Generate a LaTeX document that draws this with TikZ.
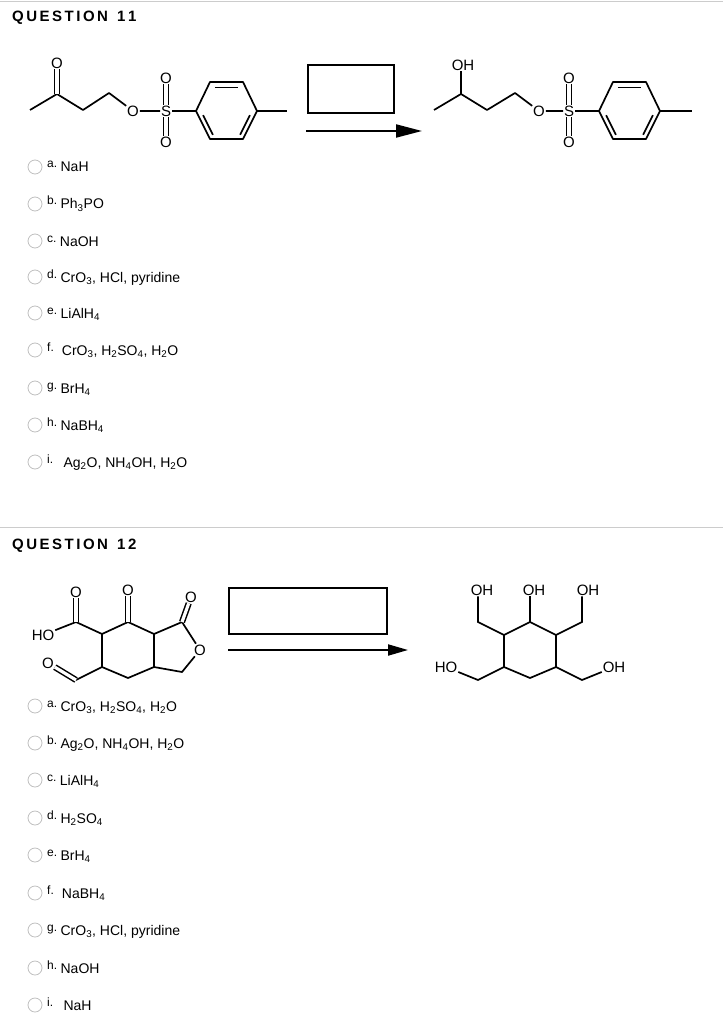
\documentclass[tikz,border=0pt]{standalone}
\usepackage{fontspec}
\setmainfont{Liberation Sans}
\usetikzlibrary{calc,arrows.meta}
\newcommand{\lsub}[1]{\textsubscript{#1}}
\tikzset{
  bond/.style={line width=1.7pt},
  dbond/.style={line width=1.5pt,double distance=3.2pt},
  atom/.style={inner sep=0.8pt,font=\fontsize{15}{15}\selectfont},
  radio/.style={draw=black!25,line width=0.8pt,circle,minimum size=14pt,inner sep=0pt},
  lett/.style={anchor=base west,inner sep=0pt,font=\fontsize{12}{12}\selectfont},
  opttext/.style={anchor=base west,inner sep=0pt,font=\fontsize{14}{14}\selectfont},
  qtitle/.style={anchor=west,inner sep=0pt,font=\fontsize{15}{15}\selectfont\bfseries},
  sepline/.style={draw=black!20,line width=0.8pt},
  answerbox/.style={draw,line width=1.7pt},
  rxn/.style={line width=2pt,-{Triangle[length=26pt,width=13pt]}}
}
\newcommand{\myopt}[4]{%
  \node[radio] (r#1) at (35,#2) {};
  \node[lett] (l#1) at (47,#2+1) {#3};
  \node[opttext] (t#1) at ([xshift=3pt,yshift=-4pt]l#1.base east) {#4};}
\begin{document}
\begin{tikzpicture}[x=1pt,y=-1pt]
\useasboundingbox (0,0) rectangle (723,1024);
\draw[sepline] (0,1) -- (723,1);
\draw[sepline] (0,527) -- (723,527);
\node[qtitle] (q11) at (12,18) {Q\,U\,E\,S\,T\,I\,O\,N\,\, 1\,1};
\node[qtitle] (q12) at (12,546) {Q\,U\,E\,S\,T\,I\,O\,N\,\, 1\,2};

% ---- Q11 left molecule
\coordinate (a1) at (30,110); \coordinate (a2) at (57,94);
\node[atom] (aO) at (57,63) {O};
\coordinate (a3) at (83,110); \coordinate (a4) at (109,93);
\node[atom] (aO2) at (133,111) {O};
\node[atom] (aS) at (166,111) {S};
\node[atom] (aSu) at (166,78) {O};
\node[atom] (aSd) at (166,142) {O};
\coordinate (b1) at (196,111); \coordinate (b2) at (210,82); \coordinate (b3) at (243,82);
\coordinate (b4) at (257,111); \coordinate (b5) at (243,139); \coordinate (b6) at (210,139);
\coordinate (bm) at (287,111);
\draw[bond,line join=round] (a1)--(a2)--(a3)--(a4)--(aO2)--(aS)--(b1);
\draw[bond,line join=round] (b1)--(b2)--(b3)--(b4)--(b5)--(b6)--cycle;
\draw[bond] (b4)--(bm);
\draw[dbond] (a2)--(aO); \draw[dbond] (aS)--(aSu); \draw[dbond] (aS)--(aSd);
\draw[bond] ($(b2)!0.15!(b3)+(0,5.5)$)--($(b2)!0.85!(b3)+(0,5.5)$);
\draw[bond] ($(b4)!0.15!(b5)+(-5,0)$)--($(b4)!0.85!(b5)+(-5,0)$);
\draw[bond] ($(b6)!0.15!(b1)+(5,0)$)--($(b6)!0.85!(b1)+(5,0)$);

\node[answerbox,minimum width=86pt,minimum height=48pt] (box11) at (351,89) {};
\coordinate (ar11s) at (306,131); \coordinate (ar11e) at (422,131);
\draw[rxn] (ar11s)--(ar11e);

% ---- Q11 right molecule
\coordinate (c1) at (434,110); \coordinate (c2) at (461,94);
\node[atom] (cO) at (463,65) {OH};
\coordinate (c3) at (487,110); \coordinate (c4) at (515,93);
\node[atom] (cO2) at (539,111) {O};
\node[atom] (cS) at (569,111) {S};
\node[atom] (cSu) at (569,78) {O};
\node[atom] (cSd) at (569,142) {O};
\coordinate (d1) at (599,111); \coordinate (d2) at (613,82); \coordinate (d3) at (646,82);
\coordinate (d4) at (660,111); \coordinate (d5) at (646,139); \coordinate (d6) at (613,139);
\coordinate (dm) at (692,111);
\draw[bond,line join=round] (c1)--(c2)--(c3)--(c4)--(cO2)--(cS)--(d1);
\draw[bond,line join=round] (d1)--(d2)--(d3)--(d4)--(d5)--(d6)--cycle;
\draw[bond] (d4)--(dm);
\draw[bond] (c2)--(c2|-cO.south);
\draw[dbond] (cS)--(cSu); \draw[dbond] (cS)--(cSd);
\draw[bond] ($(d2)!0.15!(d3)+(0,5.5)$)--($(d2)!0.85!(d3)+(0,5.5)$);
\draw[bond] ($(d4)!0.15!(d5)+(-5,0)$)--($(d4)!0.85!(d5)+(-5,0)$);
\draw[bond] ($(d6)!0.15!(d1)+(5,0)$)--($(d6)!0.85!(d1)+(5,0)$);

% ---- Q11 options
\myopt{a1}{167}{a.}{NaH}
\myopt{b1}{204}{b.}{Ph\lsub{3}PO}
\myopt{c1}{241}{c.}{NaOH}
\myopt{d1}{277}{d.}{CrO\lsub{3}, HCl, pyridine}
\myopt{e1}{313}{e.}{LiAlH\lsub{4}}
\myopt{f1}{350}{f.}{\,\,CrO\lsub{3}, H\lsub{2}SO\lsub{4}, H\lsub{2}O}
\myopt{g1}{388}{g.}{BrH\lsub{4}}
\myopt{h1}{425}{h.}{NaBH\lsub{4}}
\myopt{i1}{462}{i.}{\,\,\,Ag\lsub{2}O, NH\lsub{4}OH, H\lsub{2}O}

% ---- Q12 left molecule
\coordinate (e1) at (102,634); \coordinate (e2) at (128,622); \coordinate (e3) at (154,634);
\coordinate (e4) at (154,667); \coordinate (e5) at (128,678); \coordinate (e6) at (102,667);
\coordinate (eA) at (76,622);
\node[atom] (eAO) at (76,592) {O};
\node[atom] (eHO) at (43,635) {HO};
\node[atom] (eKO) at (128,590) {O};
\coordinate (eL) at (182,622);
\node[atom] (eLO) at (191,597) {O};
\node[atom] (eRO) at (200,650) {O};
\coordinate (eCH) at (182,672);
\coordinate (eAl) at (76,680);
\node[atom] (eAlO) at (48,663) {O};
\draw[bond,line join=round] (e1)--(e2)--(e3)--(e4)--(e5)--(e6)--cycle;
\draw[bond] (e1)--(eA)--(eHO); \draw[dbond] (eA)--(eAO);
\draw[dbond] (e2)--(eKO);
\draw[bond] (e3)--(eL)--(eRO)--(eCH)--(e4); \draw[dbond] (eL)--(eLO);
\draw[bond] (e6)--(eAl); \draw[dbond] (eAl)--(eAlO);

\node[answerbox,minimum width=158pt,minimum height=46pt] (box12) at (308,611) {};
\coordinate (ar12s) at (228,650); \coordinate (ar12e) at (408,650);
\draw[line width=2pt,-{Triangle[length=20pt,width=11pt]}] (ar12s)--(ar12e);

% ---- Q12 right molecule
\coordinate (f1) at (504,635); \coordinate (f2) at (530,622); \coordinate (f3) at (556,635);
\coordinate (f4) at (556,667); \coordinate (f5) at (530,678); \coordinate (f6) at (504,667);
\coordinate (g1) at (478,622); \node[atom] (g1O) at (482,590) {OH};
\node[atom] (g2O) at (534,590) {OH};
\coordinate (g3) at (582,622); \node[atom] (g3O) at (588,590) {OH};
\coordinate (g6) at (478,680); \node[atom] (g6O) at (446,667) {HO};
\coordinate (g4) at (582,680); \node[atom] (g4O) at (614,667) {OH};
\draw[bond,line join=round] (f1)--(f2)--(f3)--(f4)--(f5)--(f6)--cycle;
\draw[bond] (f1)--(g1)--(g1|-g1O.south);
\draw[bond] (f2)--(f2|-g2O.south);
\draw[bond] (f3)--(g3)--(g3|-g3O.south);
\draw[bond] (f6)--(g6)--(g6O);
\draw[bond] (f4)--(g4)--(g4O);

% ---- Q12 options
\myopt{a2}{706}{a.}{CrO\lsub{3}, H\lsub{2}SO\lsub{4}, H\lsub{2}O}
\myopt{b2}{743}{b.}{Ag\lsub{2}O, NH\lsub{4}OH, H\lsub{2}O}
\myopt{c2}{780}{c.}{LiAlH\lsub{4}}
\myopt{d2}{818}{d.}{H\lsub{2}SO\lsub{4}}
\myopt{e2}{855}{e.}{BrH\lsub{4}}
\myopt{f2}{893}{f.}{\,\,NaBH\lsub{4}}
\myopt{g2}{930}{g.}{CrO\lsub{3}, HCl, pyridine}
\myopt{h2}{968}{h.}{NaOH}
\myopt{i2}{1005}{i.}{\,\,\,NaH}
\end{tikzpicture}
\end{document}
